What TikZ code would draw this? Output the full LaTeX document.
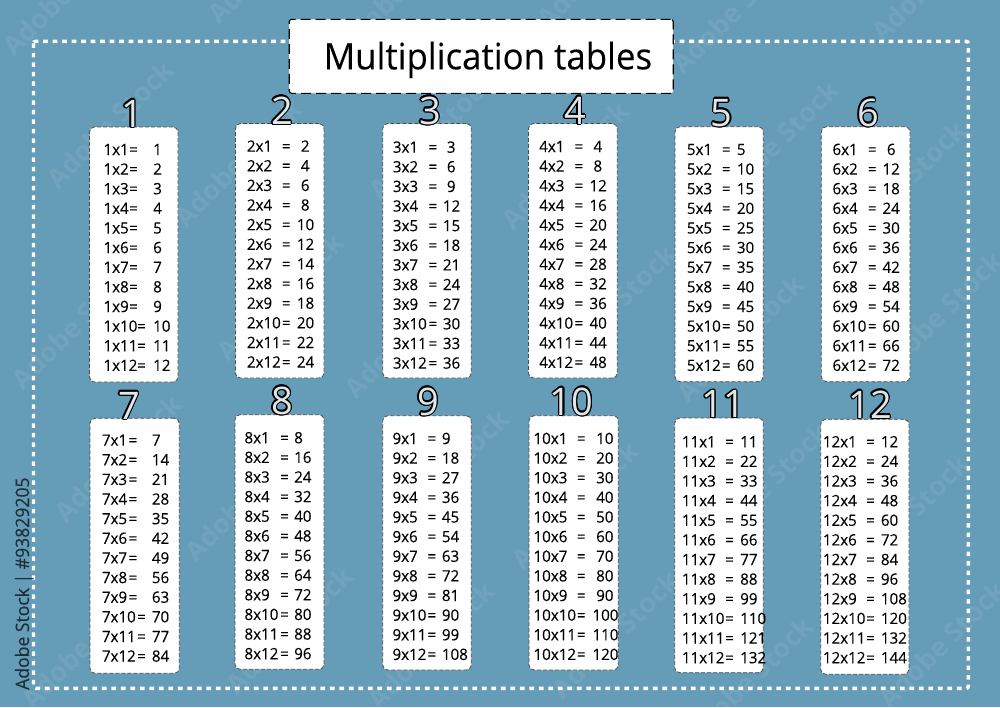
\documentclass[tikz,border=0pt]{standalone}
\usepackage{fontspec}
\setmainfont{Open Sans}
\newfontfamily\titlefont[FakeStretch=0.955,FakeBold=0.1]{Open Sans}
\newfontfamily\cellfont[FakeStretch=0.97,FakeBold=0.1]{Open Sans}
\newfontfamily\labelfont[FakeStretch=0.945,FakeBold=0.1]{Open Sans}
\usepackage[copies]{contour}
\contourlength{1.2pt}
\contournumber{16}
\definecolor{sheet}{RGB}{101,156,183}
\definecolor{headfill}{RGB}{225,230,232}
\begin{document}
\begin{tikzpicture}[
  x=1pt, y=-1pt,
  card/.style={draw=black!70, fill=white, line width=0.8pt, dash pattern=on 4pt off 2pt, rounded corners=5pt, inner sep=0pt},
  titlebox/.style={draw=black, fill=white, line width=1.1pt, dash pattern=on 10pt off 5pt, rounded corners=2.5pt, inner sep=0pt, minimum width=384pt, minimum height=74pt},
  head/.style={anchor=base, inner sep=0pt, text=headfill, font=\fontsize{38}{38}\selectfont},
  cell/.style={anchor=base west, inner sep=0pt, text=black, font=\cellfont\fontsize{15.6}{18}\selectfont},
  stockmark/.style={rotate=45, inner sep=0pt, text=white, text opacity=0.08, font=\bfseries\fontsize{27}{27}\selectfont},
]
\useasboundingbox[fill=sheet] (0,0) rectangle (1000,707);
% faint marks across the sheet
\foreach \mx/\my [count=\mk] in {66/-8,271/-40,400/-10,600/-35,735/10,935/-22,
  110/124,238/163,432/135,565/165,775/144,902/184,
  75/325,280/296,408/334,612/308,740/338,939/315,
  118/458,248/497,445/473,575/505,765/486,905/518,
  85/645,289/630,431/645,615/635,749/680,942/644}{
  \node[stockmark] (mark\mk) at (\mx,\my) {Adobe Stock};
}
% outer frame
\draw[white, line width=3.4pt, dash pattern=on 4.6pt off 4.9pt, rounded corners=2pt] (33.5,41.3) rectangle (968.3,688.3);
\node[titlebox] (title) at (481.2,56.3) {};
\node[anchor=base west, inner sep=0pt, font=\titlefont\fontsize{36.5}{40}\selectfont] (titletext) at (323.5,69.3) {Multiplication tables};
\node[rotate=90, anchor=base west, inner sep=0pt, text=black!70!sheet, font=\labelfont\fontsize{18.6}{20}\selectfont] (stocklabel) at (29,690) {Adobe Stock | \#93829205};
% the twelve tables
\foreach \tn/\cardl/\cardt/\cardw/\cardb/\exprx/\eqx/\eqy/\vala/\valb/\basey/\headx/\heady in {
  1/89.5/127/88.5/382/103.3/129/137/153/153/155/132/127,
  2/235.4/123.5/88.6/378/246.7/281.7/281.7/300.7/296.7/151.7/282/124,
  3/382.7/123.5/88.6/378/392.7/428.3/428.3/446.7/442.7/152.7/430/124,
  4/528.4/123.5/88.9/378/539/574.3/574.3/593.3/589.3/152/575/124,
  5/675/126.7/88.3/381.7/686.7/721.7/721.7/736.7/736.7/155/721.7/126,
  6/821.3/126.7/88.7/381.7/832.3/867.7/867.7/886.7/882.3/155/868/126,
  7/90/418.3/89.3/673.3/101.7/128.3/137/151.7/151.7/445.7/129/419,
  8/235/414.7/89/669.3/244.3/280/280/294/294/443.3/282/414,
  9/382.7/415.7/88.6/670/392.3/427.3/427.3/441.7/441.7/444/428/415,
  10/529/415.7/89.3/670/533.3/576.7/576.7/596/592.3/444/571.7/415,
  11/674.7/418/88.6/672.7/681.7/725/725/740/740/447.3/723/417.7,
  12/820.7/419.3/88.3/674.3/822.7/866/866/880.7/880.7/447.3/870/418}{
  \node[card, minimum width=\cardw pt, minimum height={(\cardb-\cardt)*1pt}] (card\tn) at ({\cardl+\cardw/2},{(\cardt+\cardb)/2}) {};
  \node[head] (head\tn) at (\headx,\heady) {\contour{black}{\tn}};
  \pgfmathtruncatemacro\cutoff{\tn==10 ? 100 : 10}
  \foreach \row in {1,...,12}{
    \pgfmathsetmacro\rowy{\basey+(\row-1)*19.63}
    \pgfmathtruncatemacro\val{\tn*\row}
    \node[cell] (expr\tn-\row) at (\exprx,\rowy) {\tn x\row};
    \ifnum\row<10
      \node[cell] (eq\tn-\row) at (\eqx,\rowy) {=};
    \else
      \node[cell] (eq\tn-\row) at (\eqy,\rowy) {=};
    \fi
    \ifnum\val<\cutoff
      \node[cell] (val\tn-\row) at (\vala,\rowy) {\val};
    \else
      \node[cell] (val\tn-\row) at (\valb,\rowy) {\val};
    \fi
  }
}
\end{tikzpicture}
\end{document}
